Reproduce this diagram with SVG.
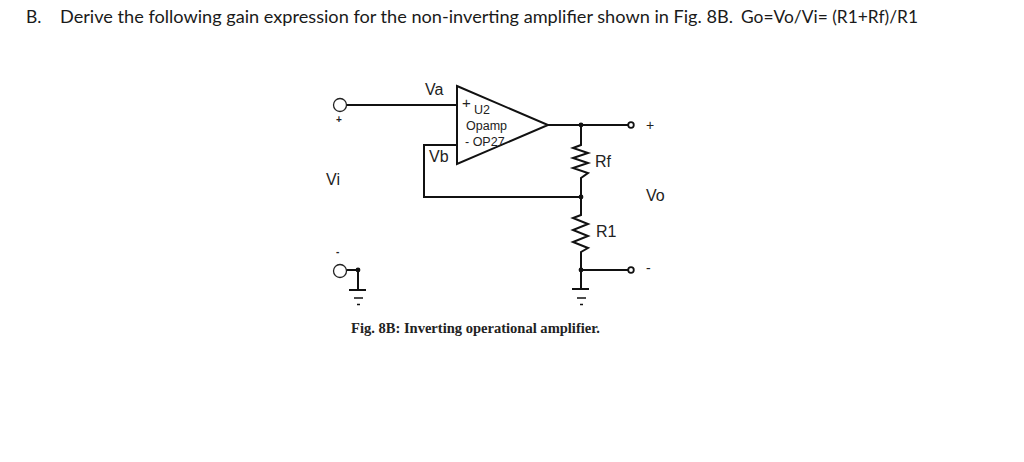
<svg xmlns="http://www.w3.org/2000/svg" width="1024" height="462" viewBox="0 0 1024 462">
<style>
.w{fill:none;stroke:#111;stroke-width:2;stroke-linejoin:miter}
.t{stroke-width:1.6}
.c{fill:#fff;stroke:#222;stroke-width:1.3}
.o{fill:#fff;stroke:#111;stroke-width:1.8}
.d{fill:#111}
.l{font-family:"Liberation Sans",Arial,sans-serif;font-size:16px;fill:#222}
.s{font-family:"Liberation Sans",Arial,sans-serif;font-size:12.500px;fill:#222}
.h{font-family:Lato,"Open Sans",sans-serif;font-size:17.500px;fill:#1a1a1a}
.f{font-family:"Liberation Serif","Times New Roman",serif;font-size:14px;font-weight:bold;fill:#222}
</style>
<rect width="1024" height="462" fill="#fff"/>
<g id="heading">
<text class="h" x="26" y="23">B.</text>
<text class="h" x="60" y="23" textLength="673" lengthAdjust="spacingAndGlyphs">Derive the following gain expression for the non-inverting amplifier shown in Fig. 8B.</text>
<text class="h" x="741" y="23" textLength="177" lengthAdjust="spacingAndGlyphs">Go=Vo/Vi= (R1+Rf)/R1</text>
</g>
<g id="connectors">
<path class="w" d="M346 105H457"/>
<path class="w" d="M457 145H424V197H581"/>
<path class="w" d="M548 125H628"/>
<path class="w" d="M581 125V145L573 148 588 153 573 158 588 163 573 168 588 173 581 178V215L573 218 588 224 573 230 588 236 573 242 588 248 581 252V289"/>
<path class="w" d="M581 270H628"/>
<path class="w" d="M346 270H358V290"/>
</g>
<g id="opamp">
<path class="w" d="M457 86L548 125 457 164Z" fill="#fff"/>
<text class="l" x="462" y="108" style="font-size:15px">+</text>
<text class="s" x="474" y="114">U2</text>
<text class="s" x="466" y="130">Opamp</text>
<text class="s" x="465" y="146">- OP27</text>
</g>
<g id="vi-plus"><circle class="c" cx="340" cy="105" r="6.500"/><text class="s" x="336" y="123" style="font-size:10px;font-weight:bold">+</text></g>
<g id="vi-minus"><circle class="c" cx="340" cy="271" r="6.500"/><text class="s" x="336" y="255" style="font-size:10px;font-weight:bold">-</text></g>
<g id="vo-plus"><circle class="o" cx="631" cy="125" r="2.800"/><text class="s" x="646" y="130" style="font-size:14px">+</text></g>
<g id="vo-minus"><circle class="o" cx="631" cy="270" r="2.800"/><text class="s" x="646" y="273" style="font-size:14px">-</text></g>
<g id="junctions">
<circle class="d" cx="581" cy="125" r="2.400"/>
<circle class="d" cx="581" cy="197" r="2.400"/>
<circle class="d" cx="581" cy="270" r="2.400"/>
<circle class="d" cx="358" cy="270" r="2.400"/>
</g>
<g id="ground-left"><path class="w" d="M349 290H366"/><path class="w t" d="M354 298H363M357 304.500H360"/></g>
<g id="ground-right"><path class="w" d="M572 289H589"/><path class="w t" d="M577 298H586M580 304.500H583"/></g>
<g id="labels">
<text class="l" x="425" y="95">Va</text>
<text class="l" x="429" y="162">Vb</text>
<text class="l" x="326" y="185">Vi</text>
<text class="l" x="595" y="167">Rf</text>
<text class="l" x="596" y="237">R1</text>
<text class="l" x="646" y="201">Vo</text>
</g>
<text id="caption" class="f" x="351" y="333" textLength="249" lengthAdjust="spacingAndGlyphs">Fig. 8B: Inverting operational amplifier.</text>
</svg>
